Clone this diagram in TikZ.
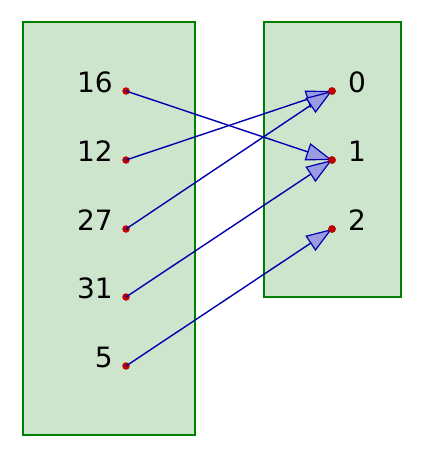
\documentclass[tikz,border=0pt]{standalone}
\usepackage{fontspec}
\setmainfont{DejaVu Sans}
\usetikzlibrary{arrows.meta}
\definecolor{boxfill}{RGB}{205,228,205}
\definecolor{boxline}{RGB}{0,128,0}
\definecolor{linkblue}{RGB}{0,0,175}
\definecolor{headfill}{RGB}{155,155,225}
\definecolor{dotred}{RGB}{190,0,0}
\tikzset{
  setbox/.style={fill=boxfill,draw=boxline,line width=1.6pt},
  dot/.style={circle,fill=dotred,inner sep=0pt,minimum size=7.5pt},
  lbl/.style={inner sep=0pt,font=\fontsize{28}{30}\selectfont},
  link/.style={draw=linkblue,line width=1.4pt,-{Triangle[length=26pt,width=18pt,fill=headfill,line width=1.2pt]}}
}
\begin{document}
\begin{tikzpicture}[x=1pt,y=-1pt]
\useasboundingbox (0,0) rectangle (425,460);
\path[setbox] (23,22) rectangle (195,435);
\path[setbox] (264,22) rectangle (401,297);
\node[dot] (a16) at (126,91) {};
\node[dot] (a12) at (126,160) {};
\node[dot] (a27) at (126,229) {};
\node[dot] (a31) at (126,297) {};
\node[dot] (a5) at (126,366) {};
\node[dot] (b0) at (332,91) {};
\node[dot] (b1) at (332,160) {};
\node[dot] (b2) at (332,229) {};
\node[lbl,anchor=base east] (t16) at (113,92) {16};
\node[lbl,anchor=base east] (t12) at (113,161) {12};
\node[lbl,anchor=base east] (t27) at (113,230) {27};
\node[lbl,anchor=base east] (t31) at (113,298) {31};
\node[lbl,anchor=base east] (t5) at (113,367) {5};
\node[lbl,anchor=base west] (u0) at (348,92) {0};
\node[lbl,anchor=base west] (u1) at (348,161) {1};
\node[lbl,anchor=base west] (u2) at (348,230) {2};
\draw[link] (a16.center) -- (b1.center);
\draw[link] (a12.center) -- (b0.center);
\draw[link] (a27.center) -- (b0.center);
\draw[link] (a31.center) -- (b1.center);
\draw[link] (a5.center) -- (b2.center);
\node[dot] at (b0) {};
\node[dot] at (b1) {};
\node[dot] at (b2) {};
\end{tikzpicture}
\end{document}
